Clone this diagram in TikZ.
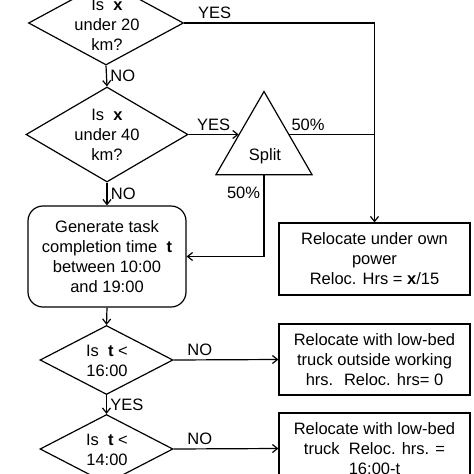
\documentclass[tikz,border=0pt]{standalone}
\usepackage{fontspec}
\setmainfont{Liberation Sans}
\usetikzlibrary{shapes.geometric,arrows.meta}
\tikzset{
	every node/.style={font=\fontsize{16.5}{20}\selectfont},
	decision/.style={draw,shape=diamond,inner sep=0pt},
	txt/.style={align=center,inner sep=0pt},
	result/.style={draw,minimum width=191pt,minimum height=72pt,align=center,inner sep=0pt},
	arr/.style={-{Straight Barb[length=5pt,width=8pt]}}
}
\begin{document}
\begin{tikzpicture}[x=1pt,y=1pt,line width=1.2pt]
	\useasboundingbox (0,0) rectangle (474,-474);
	\clip (0,0) rectangle (474,-474);
	% questions on distance
	\node[decision,minimum width=155pt,minimum height=84pt,name=q20] at (106,-23){};
	\node[txt] at (107,-24.5) {Is\ \ \textbf{x}\\under 20\\km?};
	\node[decision,minimum width=162pt,minimum height=95pt,name=q40] at (107,-134.5){};
	\node[txt] at (107,-135) {Is\ \ \textbf{x}\\under 40\\km?};
	\node[draw,regular polygon,regular polygon sides=3,minimum size=111pt,inner sep=0pt,name=split] at (264,-147){};
	\node[txt] at (265,-156) {Split};
	\node[draw,rounded corners=15pt,minimum width=158pt,minimum height=101pt,align=center,inner sep=0pt,name=gen] at (107,-256.5)
		{Generate task\\completion time \ \textbf{t}\\between 10:00\\and 19:00};
	% questions on time
	\foreach \n/\y in {16/360,14/449}{
		\node[decision,minimum width=133pt,minimum height=69pt,name=q\n] at (106.5,-\y){};
		\node[txt] at (107,-\y-0.5) {Is\ \ \textbf{t} <\\\n:00};
	};
	% results
	\node[result,name=own] at (374.5,-259) {Relocate under own\\power\\Reloc. Hrs = \textbf{x}/15};
	\node[result,minimum height=71pt,name=late] at (374.5,-359.5) {Relocate with low-bed\\truck outside working\\hrs. \ Reloc. hrs= 0};
	\node[result,minimum height=71pt,name=early] at (374.5,-448.5) {Relocate with low-bed\\truck \ Reloc. hrs. =\\16:00-t};
	% connectors
	\draw[arr] (q20.east) -| node[pos=0.08,above]{YES} (own.north);
	\draw[arr] (q20.south) -- node[right]{NO} (q40.north);
	\draw[arr] (q40.east) -- node[above]{YES} (q40.east -| split.153);
	\draw (split.27 |- q40.east) -- node[pos=0.22,above]{50\%} (q40.east -| own.north);
	\draw[arr] (split.south) |- node[pos=0.11,left]{50\%} (gen.east);
	\draw[arr] (q40.south) -- node[right]{NO} (gen.north);
	\draw[arr] (gen.south) -- (q16.north);
	\draw[arr] (q16.east) -- node[pos=0.25,above]{NO} (late.west);
	\draw[arr] (q16.south) -- node[right]{YES} (q14.north);
	\draw[arr] (q14.east) -- node[pos=0.25,above]{NO} (early.west);
\end{tikzpicture}
\end{document}
